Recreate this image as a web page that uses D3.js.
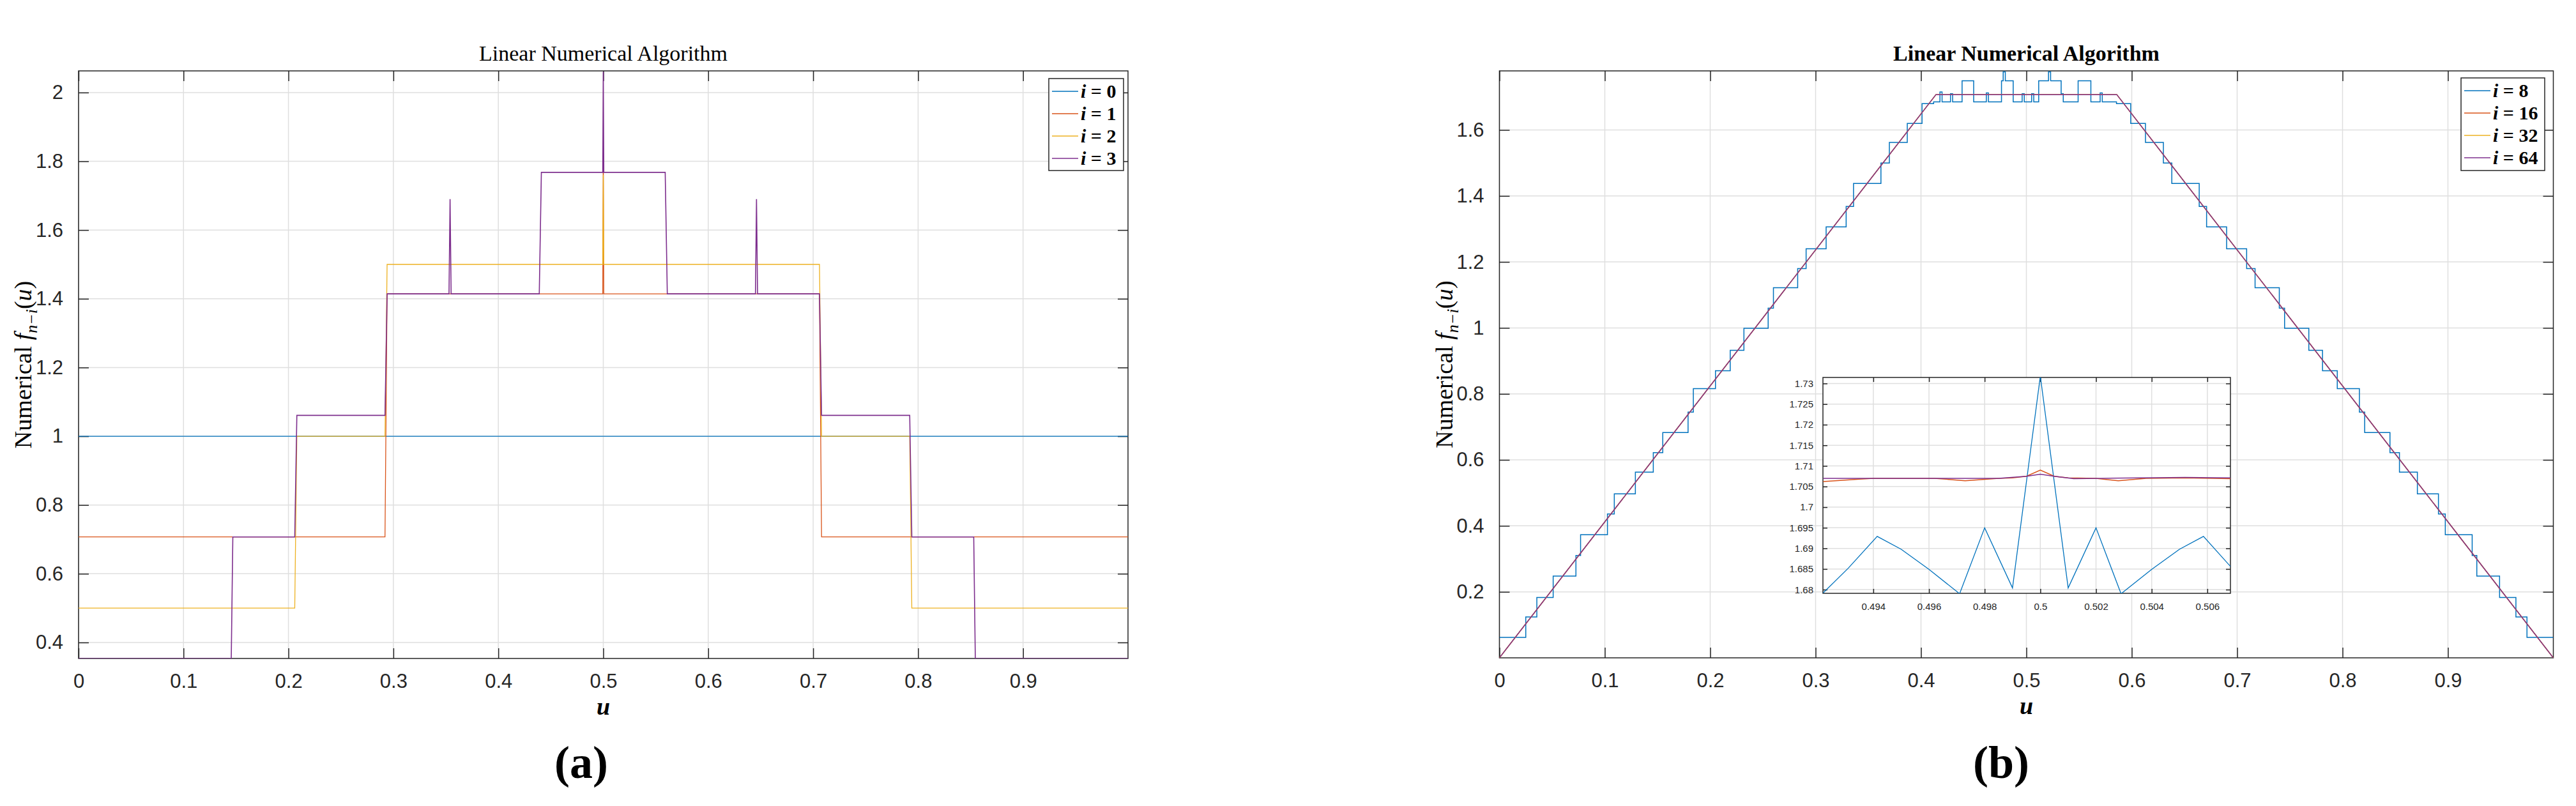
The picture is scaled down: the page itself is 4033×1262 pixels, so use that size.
<!DOCTYPE html>
<html>
<head>
<meta charset="utf-8">
<script src="https://cdn.jsdelivr.net/npm/d3@7"></script>
<style>
  body { margin: 0; background: #fff; }
  .tick text { font-family: "Liberation Sans", Arial, sans-serif; fill: #262626; }
</style>
</head>
<body>
<div id="chart"></div>
<script>
// Panel (a) series: [u, value] breakpoints
var seriesA0 = [[0, 1], [1, 1]];
var seriesA1 = [[0, 0.7071], [0.292, 0.7071], [0.294, 1.4142], [0.4995, 1.4142], [0.5, 1.81], [0.5005, 1.4142],
  [0.706, 1.4142], [0.708, 0.7071], [1, 0.7071]];
var seriesA2 = [[0, 0.5], [0.206, 0.5], [0.208, 1], [0.292, 1], [0.294, 1.5], [0.4995, 1.5], [0.5, 1.76], [0.5005, 1.5],
  [0.706, 1.5], [0.708, 1], [0.792, 1], [0.794, 0.5], [1, 0.5]];
var seriesA3 = [[0, 0.3536], [0.1455, 0.3536], [0.147, 0.7071], [0.206, 0.7071], [0.208, 1.0607], [0.292, 1.0607],
  [0.294, 1.4142], [0.353, 1.4142], [0.354, 1.69], [0.355, 1.4142], [0.439, 1.4142], [0.441, 1.7678],
  [0.4995, 1.7678], [0.5, 2.06], [0.5005, 1.7678], [0.559, 1.7678], [0.561, 1.4142], [0.645, 1.4142],
  [0.646, 1.69], [0.647, 1.4142], [0.706, 1.4142], [0.708, 1.0607], [0.792, 1.0607], [0.794, 0.7071],
  [0.853, 0.7071], [0.8545, 0.3536], [1, 0.3536]];
var labelsA = ["0", "1", "2", "3"];

// Panel (b): i=8 staircase (step start u, level)
var blueStart = [0, 0.025, 0.0355, 0.051, 0.0726, 0.077, 0.1025, 0.109, 0.129, 0.146, 0.155, 0.179, 0.184, 0.205,
  0.219, 0.232, 0.255, 0.26, 0.283, 0.291, 0.31, 0.329, 0.336, 0.362, 0.37, 0.387, 0.401,
  0.412, 0.418, 0.420, 0.428, 0.430, 0.439, 0.450, 0.462, 0.464, 0.4764, 0.478, 0.480, 0.4875,
  0.496, 0.498, 0.505, 0.507, 0.5117, 0.521, 0.523, 0.5228, 0.533, 0.535, 0.5491, 0.5612, 0.570, 0.572, 0.5855,
  0.599, 0.613, 0.63, 0.638, 0.664, 0.671, 0.69, 0.709, 0.717, 0.74, 0.745, 0.768, 0.781, 0.795,
  0.816, 0.821, 0.845, 0.854, 0.871, 0.891, 0.8975, 0.923, 0.9274, 0.949, 0.9645, 0.975, 1];
var blueLevel = [0.062, 0.124, 0.183, 0.248, 0.31, 0.373, 0.436, 0.497, 0.563, 0.622, 0.683, 0.745, 0.816, 0.87,
  0.932, 0.999, 1.06, 1.122, 1.18, 1.24, 1.306, 1.368, 1.438, 1.5, 1.562, 1.62, 1.68,
  1.685, 1.715, 1.685, 1.71, 1.685, 1.749, 1.685, 1.712, 1.685, 1.749, 1.776, 1.749, 1.685,
  1.71, 1.685, 1.71, 1.685, 1.749, 1.776, 1.749, 1.749, 1.71, 1.685, 1.749, 1.685, 1.712, 1.685, 1.68,
  1.62, 1.562, 1.5, 1.438, 1.368, 1.306, 1.24, 1.18, 1.122, 1.06, 0.999, 0.932, 0.87, 0.816,
  0.745, 0.683, 0.622, 0.563, 0.497, 0.436, 0.373, 0.31, 0.248, 0.183, 0.124, 0.062, 0.062];
var trapU = [0, 0.4142, 0.5858, 1];
var trapV = [0, 1.7071, 1.7071, 0];
var labelsB = ["8", "16", "32", "64"];

// Inset zoom around u = 0.5
var insetBlue = [[0.4922, 1.6792], [0.4931, 1.6852], [0.49414, 1.6929], [0.4950, 1.6898], [0.4960, 1.6849],
  [0.4971, 1.6790], [0.4980, 1.6950], [0.4990, 1.6804], [0.5, 1.7318], [0.5010, 1.6804], [0.5020, 1.6950],
  [0.5029, 1.6790], [0.5040, 1.6849], [0.5050, 1.6898], [0.50586, 1.6929], [0.5069, 1.6851]];
var insetRed = [[0.4922, 1.7062], [0.4935, 1.7068], [0.494, 1.7070], [0.4962, 1.7070], [0.4973, 1.7064],
  [0.4985, 1.7070], [0.499, 1.7071], [0.4995, 1.7075], [0.5, 1.7090], [0.5005, 1.7075], [0.501, 1.7071],
  [0.502, 1.7070], [0.5028, 1.7064], [0.5038, 1.7070], [0.5052, 1.7071], [0.5069, 1.7069]];
var insetPurple = [[0.4922, 1.7070], [0.4985, 1.7070], [0.4995, 1.7075], [0.5, 1.7080], [0.5005, 1.7075],
  [0.5012, 1.7069], [0.5022, 1.7070], [0.5052, 1.7072], [0.5069, 1.7071]];

var colors = ["#0072BD", "#D95319", "#EDB120", "#7E2F8E"];

var svg = d3.select("#chart").append("svg")
  .attr("width", 4033).attr("height", 1262);

function boxAxes(g, x, y, w, h, xTicks, yTicks, xFmt, yFmt, fontSize, tickLen) {
  // grid
  g.append("g").selectAll("line").data(xTicks).enter().append("line")
    .attr("x1", d => x(d)).attr("x2", d => x(d)).attr("y1", 0).attr("y2", h)
    .attr("stroke", "#dfdfdf").attr("stroke-width", 1.5);
  g.append("g").selectAll("line").data(yTicks).enter().append("line")
    .attr("y1", d => y(d)).attr("y2", d => y(d)).attr("x1", 0).attr("x2", w)
    .attr("stroke", "#dfdfdf").attr("stroke-width", 1.5);

  var xb = g.append("g").attr("transform", `translate(0,${h})`)
    .call(d3.axisBottom(x).tickValues(xTicks).tickFormat(xFmt).tickSizeInner(-tickLen).tickSizeOuter(0).tickPadding(tickLen + 8));
  var xt = g.append("g")
    .call(d3.axisTop(x).tickValues(xTicks).tickFormat("").tickSizeInner(-tickLen).tickSizeOuter(0));
  var yl = g.append("g")
    .call(d3.axisLeft(y).tickValues(yTicks).tickFormat(yFmt).tickSizeInner(-tickLen).tickSizeOuter(0).tickPadding(tickLen + 8));
  var yr = g.append("g").attr("transform", `translate(${w},0)`)
    .call(d3.axisRight(y).tickValues(yTicks).tickFormat("").tickSizeInner(-tickLen).tickSizeOuter(0));
  [xb, xt, yl, yr].forEach(a => {
    a.select(".domain").remove();
    a.selectAll("line").attr("stroke", "#262626").attr("stroke-width", 1.5);
    a.selectAll("text").style("font-size", fontSize + "px");
  });
  g.append("rect").attr("width", w).attr("height", h)
    .attr("fill", "none").attr("stroke", "#262626").attr("stroke-width", 1.5);
}

function drawLegend(g, lx, ly, lw, lh, labels) {
  var lg = g.append("g").attr("transform", `translate(${lx},${ly})`);
  lg.append("rect").attr("width", lw).attr("height", lh)
    .attr("fill", "#fff").attr("stroke", "#262626").attr("stroke-width", 1.5);
  labels.forEach(function(lab, k) {
    var yy = 20 + k * 35;
    lg.append("line").attr("x1", 5).attr("x2", 46).attr("y1", yy).attr("y2", yy)
      .attr("stroke", colors[k]).attr("stroke-width", 1.5);
    var t = lg.append("text").attr("x", 50).attr("y", yy + 10)
      .attr("font-family", "'Liberation Serif', serif").attr("font-size", 30).attr("font-weight", "bold");
    t.append("tspan").attr("font-style", "italic").text("i");
    t.append("tspan").text(" = " + lab);
  });
}

function titles(g, w, h, cx, letter) {
  g.append("text").attr("x", w / 2).attr("y", -16).attr("text-anchor", "middle")
    .attr("font-family", "'Liberation Serif', serif").attr("font-size", 34)
    .attr("font-weight", letter === "b" ? "bold" : "normal")
    .text("Linear Numerical Algorithm");
  g.append("text").attr("x", w / 2).attr("y", h + 88).attr("text-anchor", "middle")
    .attr("font-family", "'Liberation Serif', serif").attr("font-size", 38)
    .attr("font-style", "italic").attr("font-weight", "bold").text("u");
  var yl = g.append("text").attr("transform", `translate(-74,${h / 2}) rotate(-90)`)
    .attr("text-anchor", "middle")
    .attr("font-family", "'Liberation Serif', serif").attr("font-size", 38);
  yl.append("tspan").text("Numerical ");
  yl.append("tspan").attr("font-style", "italic").text("f");
  yl.append("tspan").attr("font-style", "italic").attr("font-size", 26).attr("dy", 9).text("n−i");
  yl.append("tspan").attr("dy", -9).text("(");
  yl.append("tspan").attr("font-style", "italic").text("u");
  yl.append("tspan").text(")");
  svg.append("text").attr("x", cx).attr("y", 1218).attr("text-anchor", "middle")
    .attr("font-family", "'Liberation Serif', serif").attr("font-size", 72).attr("font-weight", "bold")
    .text("(" + letter + ")");
}

var xTicks = [0, 0.1, 0.2, 0.3, 0.4, 0.5, 0.6, 0.7, 0.8, 0.9];
var fmt = d => d3.format("~g")(d);

// ---------- Panel (a) ----------
var wA = 1643, hA = 920;
var gA = svg.append("g").attr("transform", "translate(123,111)");
var xA = d3.scaleLinear().domain([0, 1]).range([0, wA]);
var yA = d3.scaleLinear().domain([0.3535, 2.063]).range([hA, 0]);
boxAxes(gA, xA, yA, wA, hA, xTicks, [0.4, 0.6, 0.8, 1, 1.2, 1.4, 1.6, 1.8, 2], fmt, fmt, 31, 16);
svg.append("clipPath").attr("id", "clipA").append("rect").attr("width", wA).attr("height", hA);
var lineA = d3.line().x(d => xA(d[0])).y(d => yA(d[1]));
var plotA = gA.append("g").attr("clip-path", "url(#clipA)");
[seriesA0, seriesA1, seriesA2, seriesA3].forEach(function(s, k) {
  plotA.append("path").datum(s).attr("d", lineA).attr("fill", "none")
    .attr("stroke", colors[k]).attr("stroke-width", k === 3 ? 1.6 : 1.3);
});
drawLegend(gA, 1642 - 123, 123 - 111, 117, 144, labelsA);
titles(gA, wA, hA, 910, "a");

// ---------- Panel (b) ----------
var wB = 1650, hB = 919;
var gB = svg.append("g").attr("transform", "translate(2347.5,111)");
var xB = d3.scaleLinear().domain([0, 1]).range([0, wB]);
var yB = d3.scaleLinear().domain([0, 1.779]).range([hB, 0]);
boxAxes(gB, xB, yB, wB, hB, xTicks, [0.2, 0.4, 0.6, 0.8, 1, 1.2, 1.4, 1.6], fmt, fmt, 31, 16);
svg.append("clipPath").attr("id", "clipB").append("rect").attr("width", wB).attr("height", hB);
var plotB = gB.append("g").attr("clip-path", "url(#clipB)");
var bluePts = blueStart.map((u, k) => [u, blueLevel[k]]);
plotB.append("path").datum(bluePts)
  .attr("d", d3.line().x(d => xB(d[0])).y(d => yB(d[1])).curve(d3.curveStepAfter))
  .attr("fill", "none").attr("stroke", colors[0]).attr("stroke-width", 1.5);
var trapPts = trapU.map((u, k) => [u, trapV[k]]);
[1, 2, 3].forEach(function(k) {
  plotB.append("path").datum(trapPts)
    .attr("d", d3.line().x(d => xB(d[0])).y(d => yB(d[1])))
    .attr("fill", "none").attr("stroke", colors[k]).attr("stroke-width", 1.5);
});
drawLegend(gB, 3853 - 2347.5, 122 - 111, 131, 145, labelsB);
titles(gB, wB, hB, 3133, "b");

// ---------- Inset ----------
var wI = 638, hI = 338;
var gI = svg.append("g").attr("transform", "translate(2854,591)");
gI.append("rect").attr("width", wI).attr("height", hI).attr("fill", "#fff");
var xI = d3.scaleLinear().domain([0.49219, 0.50683]).range([0, wI]);
var yI = d3.scaleLinear().domain([1.6791, 1.73146]).range([hI, 0]);
boxAxes(gI, xI, yI, wI, hI, [0.494, 0.496, 0.498, 0.5, 0.502, 0.504, 0.506],
  [1.68, 1.685, 1.69, 1.695, 1.7, 1.705, 1.71, 1.715, 1.72, 1.725, 1.73],
  fmt, fmt, 15, 7);
gI.selectAll(".tick text").attr("fill", "#262626");
svg.append("clipPath").attr("id", "clipI").append("rect").attr("width", wI).attr("height", hI);
var plotI = gI.append("g").attr("clip-path", "url(#clipI)");
var lineI = d3.line().x(d => xI(d[0])).y(d => yI(d[1]));
plotI.append("path").datum(insetBlue).attr("d", lineI).attr("fill", "none").attr("stroke", colors[0]).attr("stroke-width", 1.3);
plotI.append("path").datum(insetRed).attr("d", lineI).attr("fill", "none").attr("stroke", colors[1]).attr("stroke-width", 1.5);
plotI.append("path").datum(insetPurple).attr("d", lineI).attr("fill", "none").attr("stroke", colors[3]).attr("stroke-width", 1.5);
</script>
</body>
</html>
